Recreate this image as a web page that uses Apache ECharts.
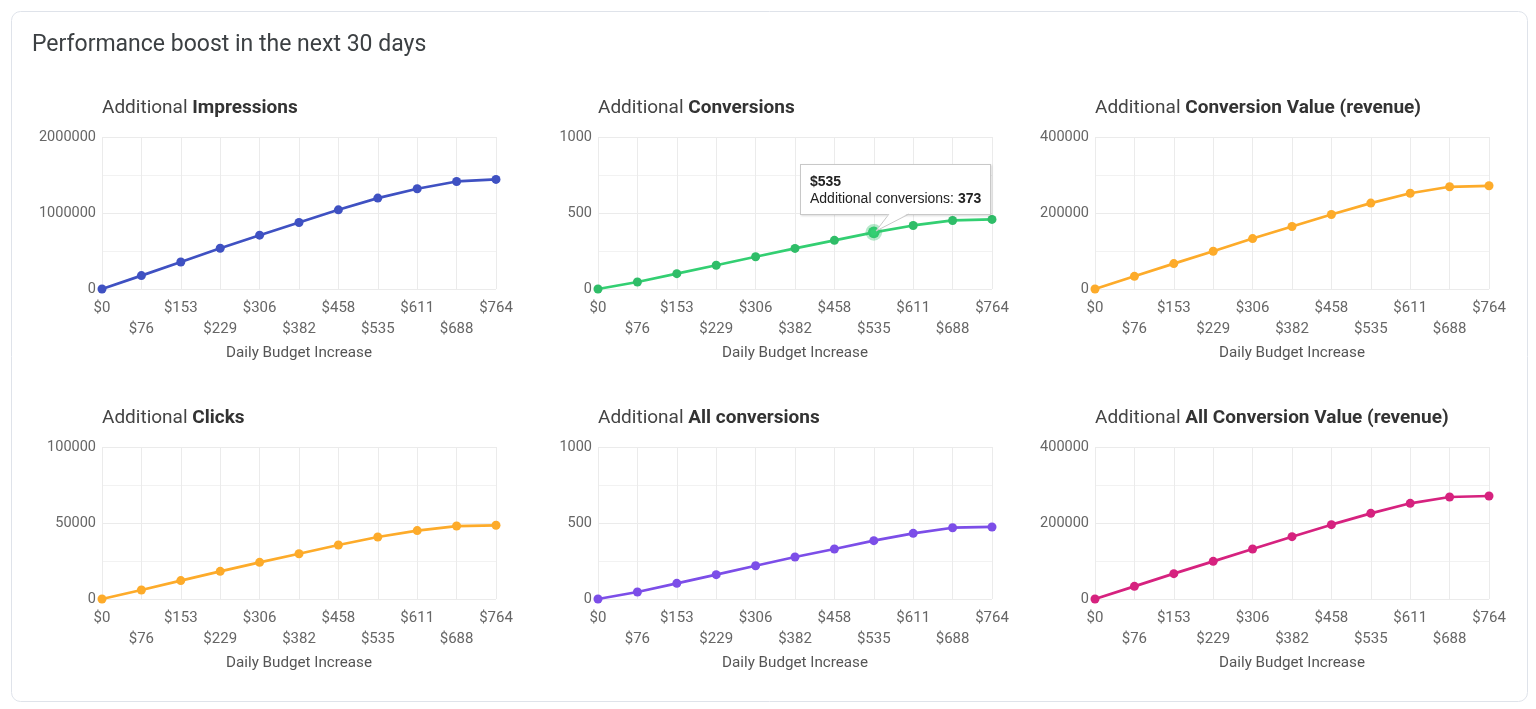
<!DOCTYPE html>
<html>
<head>
<meta charset="utf-8">
<title>Performance boost in the next 30 days</title>
<script src="https://cdn.jsdelivr.net/npm/echarts@6/dist/echarts.min.js"></script>
<style>
  html, body { margin: 0; padding: 0; background: #fff; }
  #main { width: 1536px; height: 709px; }
</style>
</head>
<body>
<div id="main"></div>
<script>
// daily budget steps (x axis)
const budgets = ['$0', '$76', '$153', '$229', '$306', '$382', '$458', '$535', '$611', '$688', '$764']

// values
const impressions = [0, 176000, 356000, 536000, 708000, 875000, 1042000, 1196000, 1319000, 1415000, 1442000]
const conversions = [0, 46, 101, 156, 212, 267, 320, 373, 418, 451, 458]
const conversionValue = [0, 33400, 66800, 99300, 132700, 164400, 196000, 226000, 252000, 269000, 271600]
const clicks = [0, 5900, 12100, 18200, 24100, 29800, 35500, 40800, 45000, 48000, 48500]
const allConversions = [0, 46, 103, 160, 219, 276, 329, 384, 432, 469, 474]
const allConversionValue = [0, 33300, 66700, 99100, 131600, 164000, 195600, 225400, 251800, 268400, 271000]

// y axis maximum of each panel
const yMax = [2000000, 1000, 400000, 100000, 1000, 400000]

const panels = [
  { name: 'Impressions', data: impressions, color: '#3f51c2' },
  { name: 'Conversions', data: conversions, color: '#2fbd68' },
  { name: 'Conversion Value (revenue)', data: conversionValue, color: '#fdab2a' },
  { name: 'Clicks', data: clicks, color: '#fdab2a' },
  { name: 'All conversions', data: allConversions, color: '#7c4ee8' },
  { name: 'All Conversion Value (revenue)', data: allConversionValue, color: '#d6227f' }
]

const colLeft = [102, 598, 1095]
const rowTop = [137, 447]
const plotW = 394
const plotH = 152

const chart = echarts.init(document.getElementById('main'))

const titles = [{
  text: 'Performance boost in the next 30 days',
  left: 32,
  top: 34,
  padding: 0,
  textStyle: { fontFamily: 'Roboto', fontSize: 23, fontWeight: 'normal', color: '#3c4043' }
}]
const grids = []
const xAxes = []
const yAxes = []
const series = []

panels.forEach(function (p, i) {
  const left = colLeft[i % 3]
  const top = rowTop[Math.floor(i / 3)]
  titles.push({
    text: '{n|Additional }{b|' + p.name + '}',
    left: left,
    top: top - 41,
    padding: 0,
    textStyle: {
      fontWeight: 'normal',
      rich: {
        n: { fontFamily: 'Roboto', fontSize: 19, fontWeight: 'normal', color: '#444', lineHeight: 24 },
        b: { fontFamily: 'Roboto', fontSize: 19, fontWeight: 'bold', color: '#333', lineHeight: 24 }
      }
    }
  })
  grids.push({ left: left, top: top, width: plotW, height: plotH })
  xAxes.push({
    type: 'category',
    gridIndex: i,
    data: budgets,
    boundaryGap: false,
    name: 'Daily Budget Increase',
    nameLocation: 'middle',
    nameGap: 57,
    nameTextStyle: { fontFamily: 'Roboto', fontSize: 15.2, color: '#555' },
    axisLine: { show: false },
    axisTick: { show: false },
    splitLine: { show: true, lineStyle: { color: '#ebebeb' } },
    axisLabel: {
      interval: 0,
      margin: 9,
      fontFamily: 'Roboto',
      fontSize: 15,
      lineHeight: 21,
      color: '#666',
      formatter: function (v, idx) { return idx % 2 ? '\n' + v : v }
    }
  })
  yAxes.push({
    type: 'value',
    gridIndex: i,
    min: 0,
    max: yMax[i],
    interval: yMax[i] / 2,
    axisLine: { show: false },
    axisTick: { show: false },
    axisLabel: {
      margin: 6,
      fontFamily: 'Roboto',
      fontSize: 14.5,
      color: '#666',
      formatter: function (v) { return String(v) }
    },
    splitLine: { show: true, lineStyle: { color: '#ebebeb' } },
    minorTick: { show: false, splitNumber: 2 },
    minorSplitLine: { show: true, lineStyle: { color: '#f2f2f2' } }
  })
  series.push({
    name: 'Additional ' + p.name.toLowerCase(),
    type: 'line',
    xAxisIndex: i,
    yAxisIndex: i,
    data: p.data,
    color: p.color,
    symbol: 'circle',
    symbolSize: 9,
    lineStyle: { width: 2.7 },
    emphasis: {
      scale: 1.3,
      itemStyle: { borderColor: echarts.color.modifyAlpha(p.color, 0.35), borderWidth: 5 }
    },
    animation: false
  })
})

chart.setOption({
  animation: false,
  graphic: [{
    type: 'rect',
    z: -10,
    shape: { x: 11.5, y: 11.5, width: 1516, height: 690, r: 9 },
    style: { fill: '#fff', stroke: '#dfe3ea', lineWidth: 1 }
  }],
  title: titles,
  grid: grids,
  xAxis: xAxes,
  yAxis: yAxes,
  series: series,
  tooltip: {
    trigger: 'item',
    triggerOn: 'none',
    alwaysShowContent: true,
    transitionDuration: 0,
    backgroundColor: '#fff',
    borderColor: '#c8c8c8',
    borderWidth: 1,
    borderRadius: 0,
    padding: [8, 9, 7, 9],
    extraCssText: 'box-shadow: 1px 1px 2px rgba(0,0,0,0.15); overflow: visible;',
    position: function () { return [800, 164] },
    formatter: function (prm) {
      return '<div style="font-family:Liberation Sans,Arial,sans-serif;font-size:14px;line-height:17px;color:#222;">' +
        '<b>' + prm.name + '</b><br>' + prm.seriesName + ': <b>' + prm.value + '</b></div>' +
        '<svg width="40" height="22" style="position:absolute;left:72px;top:48px;overflow:visible">' +
        '<polygon points="16,0 36,0 3,18" fill="#fff" stroke="none"/>' +
        '<polyline points="16,1 3,18 36,1" fill="none" stroke="#c8c8c8" stroke-width="1"/></svg>'
    }
  }
})

chart.dispatchAction({ type: 'highlight', seriesIndex: 1, dataIndex: 7 })
chart.dispatchAction({ type: 'showTip', seriesIndex: 1, dataIndex: 7 })
</script>
</body>
</html>
